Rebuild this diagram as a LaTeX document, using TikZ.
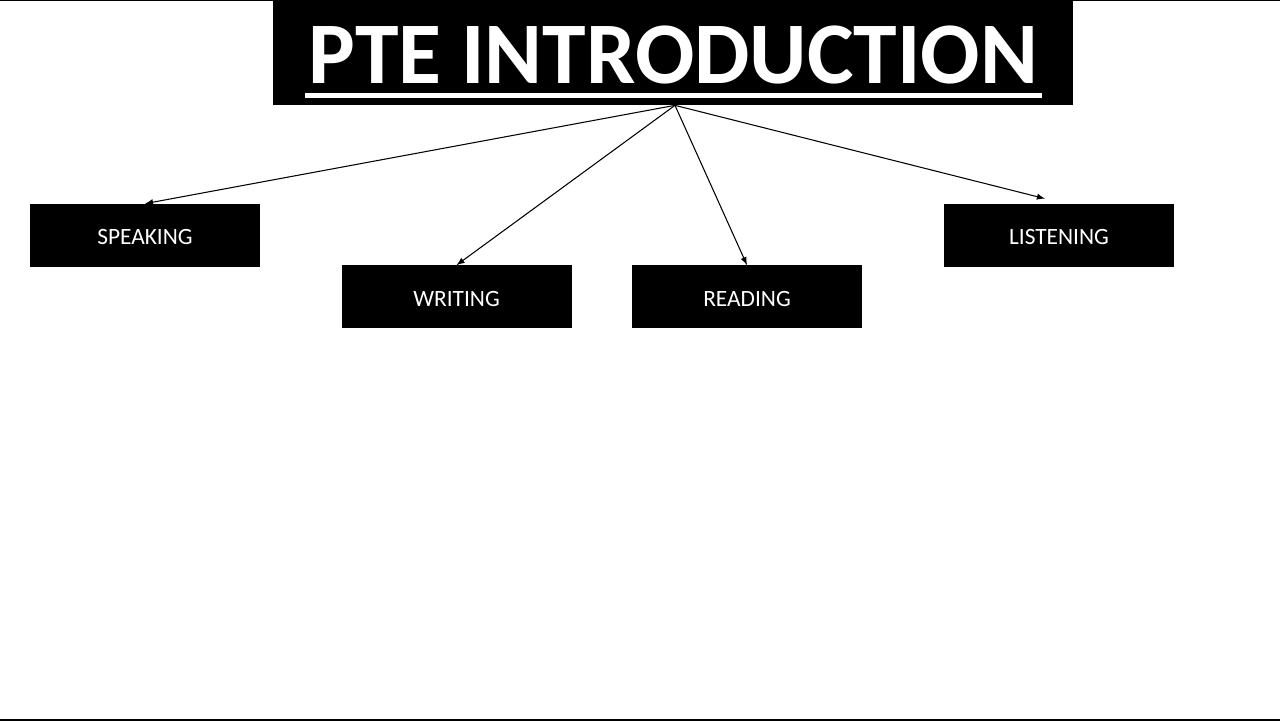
\documentclass[tikz,border=0pt]{standalone}
\usepackage{fontspec}
\setmainfont{Carlito}
\usetikzlibrary{arrows}

\tikzset{
  topic/.style={fill=black, text=white, minimum width=4.6cm, minimum height=1.26cm, inner sep=0pt, text height=0.38cm, text depth=0pt, font=\fontsize{13.3}{16}\selectfont},
  link/.style={->, >=latex, line width=0.6pt}
}

\begin{document}
\begin{tikzpicture}
    \useasboundingbox (0, 0) rectangle (25.6, 14.4);
    \fill [white] (0, 0) rectangle (25.6, 14.4);
    \draw [line width=1.6pt] (0, 14.4) -- (25.6, 14.4);
    \draw [line width=1.6pt] (0, 0) -- (25.6, 0);

    \node [fill=black, minimum width=16cm, minimum height=2.1cm, inner sep=0pt] (titlebox) at (13.46, 13.35) {};
    \node [text=white, inner sep=0pt, font=\fontsize{50}{60}\bfseries\selectfont] (titletext) at (13.47, 13.3) {PTE INTRODUCTION};
    \draw [white, line width=2.4pt] ([xshift=-0.06cm, yshift=-0.22cm]titletext.south west) -- ([xshift=0.06cm, yshift=-0.22cm]titletext.south east);

    \node [topic] (speaking) at (2.9, 9.69) {SPEAKING};
    \node [topic] (writing) at (9.13, 8.46) {WRITING};
    \node [topic] (reading) at (14.94, 8.46) {READING};
    \node [topic] (listening) at (21.18, 9.69) {LISTENING};

    \draw [link] ([xshift=0.04cm]titlebox.south) -- (speaking.north);
    \draw [link] ([xshift=0.04cm]titlebox.south) -- (writing.north);
    \draw [link] ([xshift=0.04cm]titlebox.south) -- (reading.north);
    \draw [link] ([xshift=0.04cm]titlebox.south) -- ([xshift=-0.28cm, yshift=0.1cm]listening.north);
\end{tikzpicture}
\end{document}
